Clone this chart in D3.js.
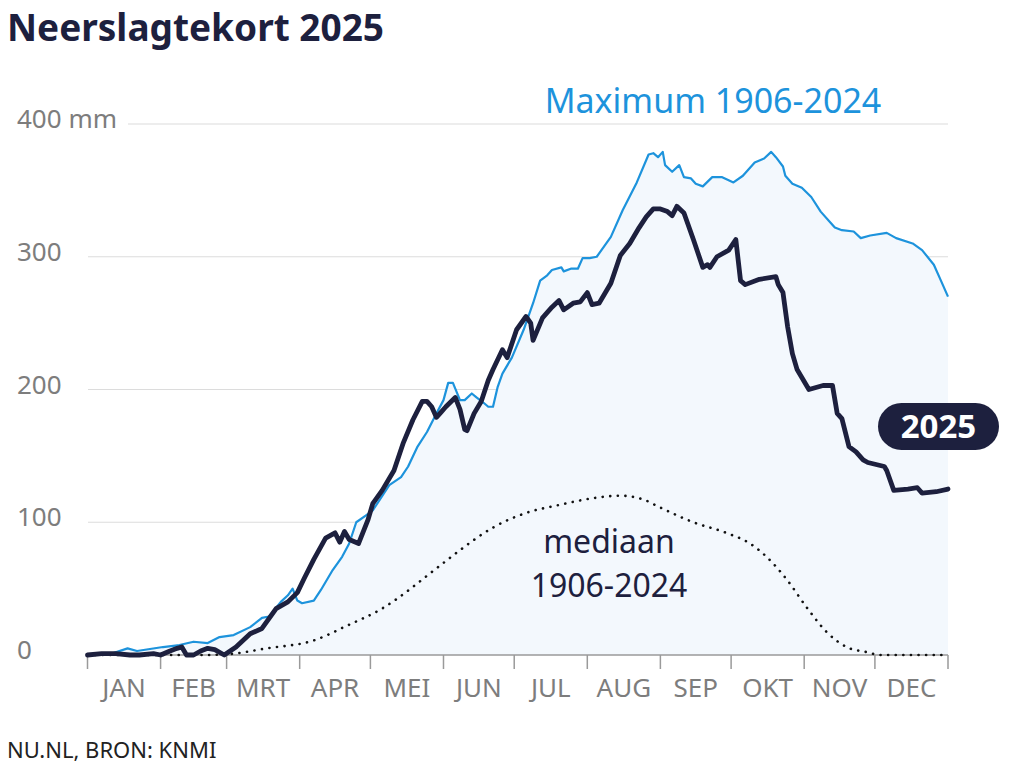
<!DOCTYPE html>
<html>
<head>
<meta charset="utf-8">
<script src="https://cdn.jsdelivr.net/npm/d3@7"></script>
<style>
  body { margin: 0; background: #fff; }
  svg { font-family: "Noto Sans", "Open Sans", sans-serif; }
</style>
</head>
<body>
<svg id="chart"></svg>
<script>
/* * * * * DATA * * * * */
// day of year (0 = 1 jan) and cumulative precipitation deficit in mm
const monthStarts = [0, 31, 59, 90, 120, 151, 181, 212, 243, 273, 304, 334, 365];
const monthLabels = ['JAN', 'FEB', 'MRT', 'APR', 'MEI', 'JUN', 'JUL', 'AUG', 'SEP', 'OKT', 'NOV', 'DEC'];
const yTicks = [0, 100, 200, 300, 400];

const deficit2025 = [
  [0,0],[6,1],[12,1],[18,0],[22,0],[28,1],[31,0],[35,3],[38,5],[40,6],[42,0],[45,0],[48,3],[51,5],
  [54,4],[58,0],[63,6],[69,16],[74,20],[80,35],[85,40],[89,47],[92,58],[96,72],[101,88],[105,92],
  [107,85],[109,93],[111,87],[115,84],[119,102],[121,114],[125,124],[130,139],[134,160],[138,177],
  [142,191],[144,191],[146,187],[148,179],[150,183],[152,187],[156,194],[158,185],[160,170],[161,169],
  [164,182],[167,191],[170,207],[172,215],[176,230],[178,224],[182,245],[186,255],[188,250],[189,237],
  [193,254],[197,262],[200,267],[202,260],[206,265],[209,266],[212,273],[214,264],[217,265],[222,280],
  [226,301],[230,310],[234,322],[237,330],[240,336],[243,336],[246,334],[248,331],[250,338],[253,333],
  [257,313],[261,292],[263,294],[264,292],[267,300],[272,305],[275,313],[277,282],[279,279],[285,283],
  [292,285],[293,279],[295,273],[297,247],[299,227],[301,215],[303,209],[306,200],[312,203],[316,203],
  [318,182],[320,178],[323,157],[326,153],[329,147],[331,145],[338,142],[339,139],[342,124],[348,125],
  [352,126],[354,122],[360,123],[365,125]
];

const maximum = [
  [0,0],[5,0.5],[11,1.5],[17,5],[21,3],[32,6],[39,7.5],[45,10],[51,9],[56,13.5],[62,15],[69,21],
  [74,28],[77,29],[82,40],[85,45],[87,50],[89,41],[91,39],[96,41],[99,49],[104,64],[108,74],[111,84],
  [114,100],[118,105],[121,109],[124,117],[128,128],[133,134],[136,142],[140,157],[144,168],[148,182],
  [151,192],[153,205],[155,205],[158,192],[160,192],[163,197],[165,194],[168,190],[170,187],[172,187],
  [174,202],[176,212],[180,224],[185,245],[189,265],[192,282],[195,286],[197,290],[201,292],[202,289],
  [205,291],[208,291],[210,299],[213,299],[216,300],[222,315],[227,335],[233,356],[238,377],[240,378],
  [242,375],[244,379],[245,369],[248,364],[251,369],[253,360],[256,359],[258,355],[261,353],[265,360],
  [269,360],[274,356],[278,361],[283,371],[287,374],[290,379],[292,375],[295,368],[296,361],[299,355],
  [303,352],[307,345],[311,334],[315,326],[317,322],[320,320],[325,319],[328,314],[332,316],[339,318],
  [343,314],[350,310],[354,305],[359,294],[362,282],[365,270]
];

const median = [
  [0,0],[30,0],[50,0],[59,0.5],[76,5],[96,11],[110,22],[124,34],[150,68],[158,79],[172,96],[186,107],
  [200,113],[214,118],[226,120],[236,117],[243,111],[257,100],[271,92],[281,84],[288,74],[297,56],
  [305,36],[314,16.5],[322,6],[331,2],[336,0],[365,0]
];

/* * * * * CONSTANTS * * * * */
const width = 1024;
const height = 768;
const dark = '#1d203e';
const blue = '#1d93dc';
const grey = '#7d7d7d';

const svg = d3.select('#chart')
  .attr('width', width)
  .attr('height', height);

const x = d3.scaleLinear().domain([0, 365]).range([87.5, 948]);
const y = d3.scaleLinear().domain([0, 400]).range([655, 124]);

// title
svg.append('text')
  .attr('x', 7)
  .attr('y', 41)
  .style('font-size', '37px')
  .style('font-weight', 700)
  .attr('fill', dark)
  .text('Neerslagtekort 2025');

// gridlines + y labels
yTicks.forEach(function(t) {
  if (t > 0) {
    svg.append('line')
      .attr('x1', t === 400 ? 128 : 88)
      .attr('x2', 948)
      .attr('y1', y(t))
      .attr('y2', y(t))
      .attr('stroke', '#dcdcdc')
      .attr('stroke-width', 1.2);
  }
  svg.append('text')
    .attr('x', 17)
    .attr('y', y(t) + 4)
    .attr('fill', grey)
    .style('font-size', '26px')
    .text(t === 400 ? '400 mm' : t);
});

// area under the maximum
svg.append('path')
  .datum(maximum)
  .attr('d', d3.area().x(d => x(d[0])).y0(y(0)).y1(d => y(d[1])))
  .attr('fill', '#f3f8fd');

// x axis
svg.append('line')
  .attr('x1', 87.5).attr('x2', 948)
  .attr('y1', y(0)).attr('y2', y(0))
  .attr('stroke', '#9a9a9a')
  .attr('stroke-width', 1.5);

monthStarts.forEach(function(d) {
  svg.append('line')
    .attr('x1', x(d)).attr('x2', x(d))
    .attr('y1', y(0)).attr('y2', y(0) + 14)
    .attr('stroke', '#9a9a9a')
    .attr('stroke-width', 1.5);
});

monthLabels.forEach(function(m, i) {
  svg.append('text')
    .attr('x', (x(monthStarts[i]) + x(monthStarts[i + 1])) / 2)
    .attr('y', 697)
    .attr('text-anchor', 'middle')
    .attr('fill', grey)
    .style('font-size', '26px')
    .text(m);
});

// median, dotted
svg.append('path')
  .datum(median)
  .attr('d', d3.line().x(d => x(d[0])).y(d => y(d[1])).curve(d3.curveMonotoneX))
  .attr('fill', 'none')
  .attr('stroke', '#111')
  .attr('stroke-width', 2.6)
  .attr('stroke-linecap', 'round')
  .attr('stroke-dasharray', '0.1 7.5');

// maximum line
svg.append('path')
  .datum(maximum)
  .attr('d', d3.line().x(d => x(d[0])).y(d => y(d[1])))
  .attr('fill', 'none')
  .attr('stroke', blue)
  .attr('stroke-width', 2.2)
  .attr('stroke-linejoin', 'round');

// 2025 line
svg.append('path')
  .datum(deficit2025)
  .attr('d', d3.line().x(d => x(d[0])).y(d => y(d[1])))
  .attr('fill', 'none')
  .attr('stroke', dark)
  .attr('stroke-width', 4.8)
  .attr('stroke-linejoin', 'round')
  .attr('stroke-linecap', 'round');

// labels
svg.append('text')
  .attr('x', 713)
  .attr('y', 113)
  .attr('text-anchor', 'middle')
  .attr('fill', blue)
  .style('font-size', '34px')
  .text('Maximum 1906-2024');

svg.append('text')
  .attr('x', 609)
  .attr('y', 553)
  .attr('text-anchor', 'middle')
  .attr('fill', dark)
  .style('font-size', '32px')
  .text('mediaan');
svg.append('text')
  .attr('x', 609)
  .attr('y', 597)
  .attr('text-anchor', 'middle')
  .attr('fill', dark)
  .style('font-size', '32px')
  .text('1906-2024');

svg.append('rect')
  .attr('x', 878).attr('y', 403)
  .attr('width', 121).attr('height', 47)
  .attr('rx', 23.5)
  .attr('fill', dark);
svg.append('text')
  .attr('x', 938.5)
  .attr('y', 438)
  .attr('text-anchor', 'middle')
  .attr('fill', '#fff')
  .style('font-size', '33px')
  .style('font-weight', 700)
  .text('2025');

// source
svg.append('text')
  .attr('x', 7)
  .attr('y', 758)
  .attr('fill', '#222')
  .style('font-size', '22px')
  .text('NU.NL, BRON: KNMI');
</script>
</body>
</html>
